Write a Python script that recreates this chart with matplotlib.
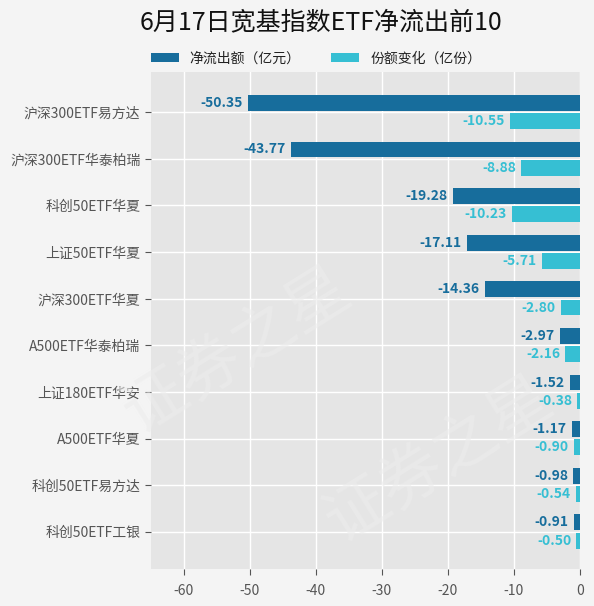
import matplotlib
matplotlib.use('Agg')
import matplotlib.pyplot as plt
import numpy as np

plt.rcParams['font.family'] = ['Noto Sans CJK SC', 'DejaVu Sans']

# 数据
基金 = ['沪深300ETF易方达', '沪深300ETF华泰柏瑞', '科创50ETF华夏', '上证50ETF华夏',
        '沪深300ETF华夏', 'A500ETF华泰柏瑞', '上证180ETF华安', 'A500ETF华夏',
        '科创50ETF易方达', '科创50ETF工银']
净流出额 = [-50.35, -43.77, -19.28, -17.11, -14.36, -2.97, -1.52, -1.17, -0.98, -0.91]
份额变化 = [-10.55, -8.88, -10.23, -5.71, -2.80, -2.16, -0.38, -0.90, -0.54, -0.50]
刻度 = [-60, -50, -40, -30, -20, -10, 0]

深蓝 = '#176d9c'
浅蓝 = '#36bfd3'

fig = plt.figure(figsize=(5.94, 6.06), dpi=100, facecolor='#f4f4f4')
ax = fig.add_axes([0.254, 0.061, 0.722, 0.82])
ax.set_facecolor('#e5e5e5')

y = np.arange(len(基金))
h = 0.34
b1 = ax.barh(y - 0.2, 净流出额, height=h, color=深蓝, label='净流出额（亿元）', zorder=3)
b2 = ax.barh(y + 0.19, 份额变化, height=h, color=浅蓝, label='份额变化（亿份）', zorder=3)

for rect, v in zip(b1, 净流出额):
    ax.text(v - 0.8, rect.get_y() + rect.get_height() / 2, f'{v:.2f}', ha='right', va='center',
            color=深蓝, fontsize=10, fontweight='bold', zorder=4)
for rect, v in zip(b2, 份额变化):
    ax.text(v - 0.8, rect.get_y() + rect.get_height() / 2, f'{v:.2f}', ha='right', va='center',
            color=浅蓝, fontsize=10, fontweight='bold', zorder=4)

ax.set_xlim(-65, 0)
ax.set_ylim(9.8, -0.86)
ax.set_xticks(刻度)
ax.set_xticklabels([str(t) for t in 刻度])
ax.set_yticks(y)
ax.set_yticklabels(基金)
ax.tick_params(colors='#555555', labelsize=10, length=4, width=0.8)
ax.tick_params(axis='x', pad=7)
ax.grid(True, color='white', linewidth=1, zorder=0)
for s in ax.spines.values():
    s.set_visible(False)

fig.text(0.541, 0.963, '6月17日宽基指数ETF净流出前10', ha='center', va='center',
         fontsize=18, color='#111111')
fig.legend(handles=[b1, b2], loc='center', bbox_to_anchor=(0.532, 0.904), ncol=2,
           frameon=False, fontsize=10, handlelength=2.0, handleheight=0.6,
           columnspacing=2.2, labelcolor='#222222')

# 水印（画在柱子下面）
for (wx, wy) in [(0.40, 0.42), (0.74, 0.24)]:
    ax.text(wx, wy, '证券之星', fontsize=46, rotation=32, ha='center', va='center',
            color='#ececec', alpha=0.6, zorder=2, transform=fig.transFigure, clip_on=False)

fig.savefig('out.png', dpi=100, facecolor=fig.get_facecolor())
